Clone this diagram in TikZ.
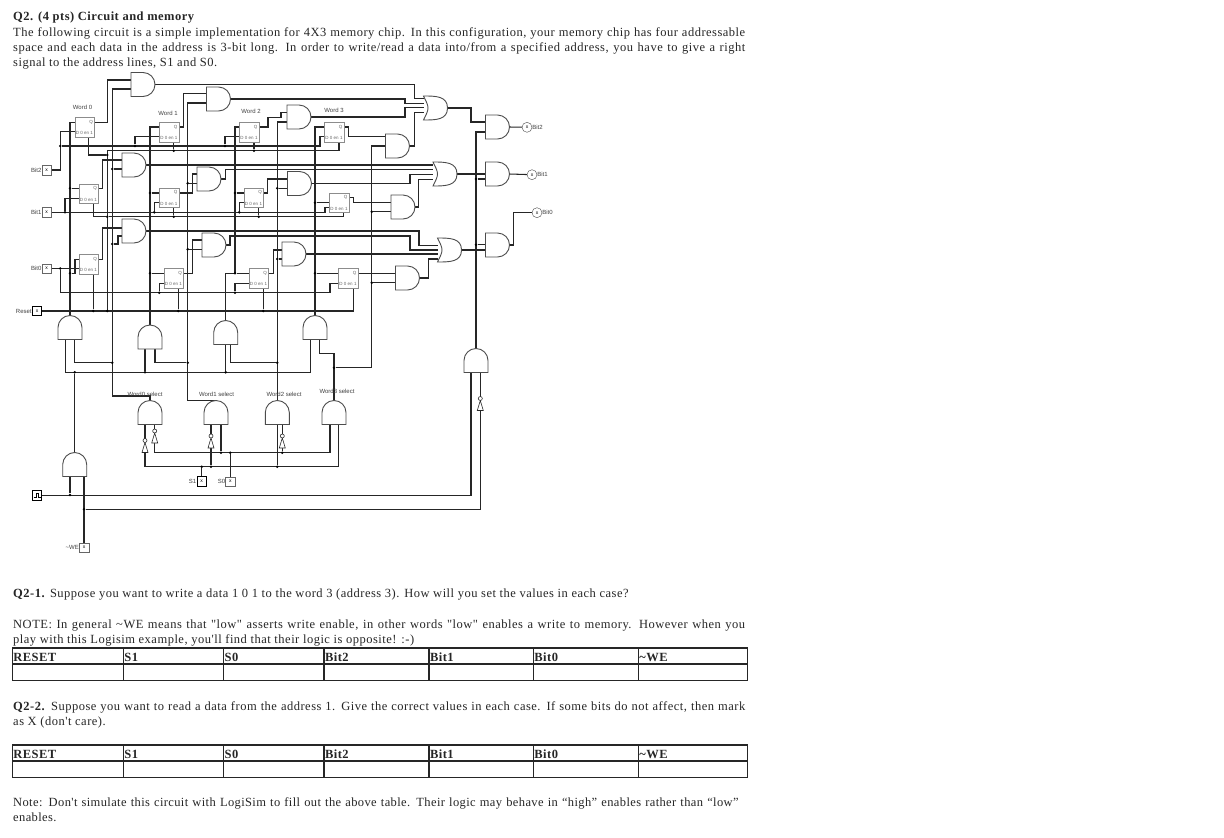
\documentclass[tikz,border=0pt]{standalone}
\usepackage{fontspec}
\setmainfont[LetterSpace=4, Ligatures=TeXOff]{Liberation Serif}
\setsansfont{Liberation Sans}
\usetikzlibrary{backgrounds, calc}

\tikzset{
    wire/.style={line width=1.05pt, black!85},
    gateline/.style={draw=black!70, fill=white, line width=0.9pt},
    gatebox/.style={rectangle, inner sep=0pt, outer sep=0pt, minimum width=24pt, minimum height=24pt},
    andg/.style={gatebox, append after command={\pgfextra{
        \draw[gateline] (\tikzlastnode.north west) -- (\tikzlastnode.north)
            .. controls ($(\tikzlastnode.north)!0.55!(\tikzlastnode.north east)$) and ($(\tikzlastnode.east)!0.55!(\tikzlastnode.north east)$) .. (\tikzlastnode.east)
            .. controls ($(\tikzlastnode.east)!0.55!(\tikzlastnode.south east)$) and ($(\tikzlastnode.south)!0.55!(\tikzlastnode.south east)$) .. (\tikzlastnode.south)
            -- (\tikzlastnode.south west) -- cycle;}}},
    org/.style={gatebox, append after command={\pgfextra{
        \draw[gateline] (\tikzlastnode.north west) .. controls (\tikzlastnode.north) and (\tikzlastnode.north east) .. (\tikzlastnode.east)
            .. controls (\tikzlastnode.south east) and (\tikzlastnode.south) .. (\tikzlastnode.south west) .. controls ($(\tikzlastnode.west)!0.5!(\tikzlastnode.center)$) .. cycle;}}},
    notg/.style={rectangle, inner sep=0pt, outer sep=0pt, minimum width=14pt, minimum height=6pt, rotate=90, append after command={\pgfextra{
        \draw[gateline, draw=black!85, line width=0.6pt] (\tikzlastnode.north west) -- ([yshift=-4pt]\tikzlastnode.east) -- (\tikzlastnode.south west) -- cycle;
        \draw[gateline, draw=black!85, line width=0.6pt] ([yshift=-2pt]\tikzlastnode.east) circle (2pt);}}},
    ffbox/.style={rectangle, draw=black!45, fill=white, minimum size=19.5pt, inner sep=0pt, label={[fftext, xshift=6.5pt, yshift=5pt]center:Q}, label={[fftext, yshift=-6pt]center:D 0 en 1}},
    fftext/.style={inner sep=0pt, text=black!60, font=\sffamily\fontsize{4.5}{5}\selectfont},
    pinbox/.style={rectangle, draw=black!60, fill=white, minimum size=9.5pt, inner sep=0pt, font=\sffamily\fontsize{5}{6}\selectfont, label distance=1.5pt},
    pinbold/.style={pinbox, draw=black, line width=0.9pt},
    pinout/.style={circle, draw=black!70, fill=white, minimum size=10pt, inner sep=0pt, font=\sffamily\fontsize{5}{6}\selectfont, label distance=0pt},
    every label/.style={font=\sffamily\fontsize{6}{7}\selectfont, text=black!75, inner sep=0pt},
    dot/.style={circle, fill=black, inner sep=0pt, minimum size=2.8pt},
    tag/.style={font=\sffamily\fontsize{6}{7}\selectfont, text=black!75, inner sep=0pt},
    para/.style={anchor=north west, inner sep=0pt, text width=732pt, align=justify, font=\fontsize{12.5}{15}\selectfont, text=black!85},
    thead/.style={anchor=base west, inner sep=0pt, font=\bfseries\fontsize{12.5}{14}\selectfont, text=black!85},
    tabline/.style={line width=1.3pt, black!85},
}

\begin{document}
\begin{tikzpicture}[x=1pt, y=-1pt]
    \useasboundingbox (0, 0) rectangle (1224, 838);

    \node[para, font=\bfseries\fontsize{12.5}{15}\selectfont] (title) at (13, 12) {Q2. (4 pts) Circuit and memory};
    \node[para] (intro) at (13, 27) {The following circuit is a simple implementation for 4X3 memory chip. In this configuration, your memory chip has four addressable\linebreak space and each data in the address is 3-bit long. In order to write/read a data into/from a specified address, you have to give a right\linebreak signal to the address lines, S1 and S0.};
    \node[para] (qone) at (13, 589) {\textbf{Q2-1.} Suppose you want to write a data 1 0 1 to the word 3 (address 3). How will you set the values in each case?};
    \node[para] (noteone) at (13, 620) {NOTE: In general \textasciitilde WE means that "low" asserts write enable, in other words "low" enables a write to memory. However when you\linebreak play with this Logisim example, you'll find that their logic is opposite! :-)};
    \node[para] (qtwo) at (13, 701) {\textbf{Q2-2.} Suppose you want to read a data from the address 1. Give the correct values in each case. If some bits do not affect, then mark\linebreak as X (don't care).};
    \node[para, align=left] (notetwo) at (13, 797) {\addfontfeature{LetterSpace=3}Note: Don't simulate this circuit with LogiSim to fill out the above table. Their logic may behave in “high” enables rather than “low”\\enables.};

    \foreach \top/\t in {648/A, 745/B} {
        \draw[tabline] (12.3, \top) rectangle (747.7, \top+32.5);
        \draw[tabline] (12.3, \top+16) -- (747.7, \top+16);
        \foreach \x/\c/\name in {12.3/a/RESET, 123.3/b/S1, 223.7/c/S0, 324/d/Bit2, 429/e/Bit1, 533.3/f/Bit0, 638.3/g/\textasciitilde WE} {
            \draw[tabline] (\x, \top) -- (\x, \top+32.5);
            \node[thead] (hd\t\c) at (\x+0.8, \top+13) {\name};
        }
    }

    \node[ffbox] (F0) at (84.5, 127) {};
    \node[ffbox] (F1) at (88.5, 193.5) {};
    \node[ffbox] (F2) at (88.5, 264) {};
    \node[ffbox] (F3) at (169, 132) {};
    \node[ffbox] (F4) at (169, 197.5) {};
    \node[ffbox] (F5) at (173.5, 278) {};
    \node[ffbox] (F6) at (249, 132) {};
    \node[ffbox] (F7) at (253.5, 197.5) {};
    \node[ffbox] (F8) at (258.5, 278) {};
    \node[ffbox] (F9) at (334, 132) {};
    \node[ffbox] (F10) at (339, 202.5) {};
    \node[ffbox] (F11) at (348, 278) {};

    \node[andg] (G1) at (143, 84.5) {};
    \node[andg] (G2) at (218.5, 99) {};
    \node[andg] (G3) at (299, 117) {};
    \node[andg] (G4) at (397.5, 146) {};
    \node[andg] (G5) at (134, 165) {};
    \node[andg] (G6) at (209, 179) {};
    \node[andg] (G7) at (299.5, 183.5) {};
    \node[andg] (G8) at (403, 207) {};
    \node[andg] (G9) at (134, 231) {};
    \node[andg] (G10) at (214, 245) {};
    \node[andg] (G11) at (294, 254) {};
    \node[andg] (G12) at (407.5, 278) {};

    \node[org] (O1) at (435.5, 108) {};
    \node[org] (O2) at (445, 174) {};
    \node[org] (O3) at (449.5, 250) {};
    \node[andg] (A1) at (497.5, 127) {};
    \node[andg] (A2) at (497.5, 174) {};
    \node[andg] (A3) at (497.5, 245) {};

    \node[andg, rotate=90] (U1) at (70, 327.5) {};
    \node[andg, rotate=90] (U2) at (150, 337) {};
    \node[andg, rotate=90] (U3) at (225.7, 332.5) {};
    \node[andg, rotate=90] (U4) at (315, 327.5) {};
    \node[andg, rotate=90] (S1) at (150, 412.5) {};
    \node[andg, rotate=90] (S2) at (216, 412.5) {};
    \node[andg, rotate=90] (S3) at (277.3, 412.5) {};
    \node[andg, rotate=90] (S4) at (334, 412.5) {};
    \node[andg, rotate=90] (RA) at (74.7, 464.5) {};
    \node[andg, rotate=90] (WA) at (476, 360.5) {};

    \node[notg] (N1) at (145, 445.5) {};
    \node[notg] (N2) at (154.7, 436) {};
    \node[notg] (N3) at (211, 441) {};
    \node[notg] (N4) at (282.3, 441) {};
    \node[notg] (N5) at (480.3, 403.5) {};

    \node[pinbox, label=left:Bit2] (P2) at (46.5, 170) {x};
    \node[pinbox, label=left:Bit1] (P1) at (46.5, 212.3) {x};
    \node[pinbox, label=left:Bit0] (P0) at (46.5, 268.5) {x};
    \node[pinbold, label=left:Reset] (PR) at (37, 311) {x};
    \node[pinbold] (PCK) at (37, 495.5) {};
    \node[pinbold, label=left:S1] (PS1) at (201.7, 481.5) {x};
    \node[pinbox, label=left:S0] (PS0) at (230.3, 481.5) {x};
    \node[pinbox, label=left:\textasciitilde WE] (PWE) at (84, 547.5) {x};
    \node[pinout, label=right:Bit2] (B2) at (527, 127.3) {x};
    \node[pinout, label=right:Bit1] (B1) at (532, 174.7) {x};
    \node[pinout, label=right:Bit0] (B0) at (537, 212.7) {x};
    \draw[line width=0.6pt] (33.5, 497.5) -- (36, 497.5) -- (36, 493) -- (38.5, 493) -- (38.5, 497.5) -- (40.5, 497.5);

    \node[tag] (W0) at (82.5, 107.5) {Word 0};
    \node[tag] (W1) at (168, 113) {Word 1};
    \node[tag] (W2) at (251, 111) {Word 2};
    \node[tag] (W3) at (334, 110) {Word 3};
    \node[tag] (L0) at (145, 394) {Word0 select};
    \node[tag] (L1) at (216.5, 394.5) {Word1 select};
    \node[tag] (L2) at (284, 394.5) {Word2 select};
    \node[tag] (L3) at (337, 391.5) {Word3 select};

    \foreach \jn/\jx/\jy in {j1/60.3/146, j2/70/188.3, j3/65/212.3, j4/60.3/268.5, j5/70/273.3, j6/107.3/155,
        j7/107.3/216.7, j8/112.3/169, j9/112.3/244, j10/93.3/311, j11/107.3/311, j12/178.3/311, j13/263.3/311,
        j14/173.7/150.7, j15/254/150.7, j16/173.7/216.7, j17/258.7/216.7, j18/154.3/212.3, j19/239.3/212.3,
        j20/150/193, j21/150/273.3, j22/235/193, j23/235/273.3, j24/159.3/292.7, j25/235/292.7,
        j26/187.7/183.3, j27/187.7/249.3, j28/277.3/188.3, j29/277.3/259, j30/315/202.7, j31/315/273.3,
        j32/371.7/211.7, j33/371.7/282.7, j34/476/179, j35/476/244.7, j36/112.3/362.7, j37/187.7/362.7,
        j38/277.3/362.7, j39/74.7/372.3, j40/145/372.3, j41/225.7/372.3, j42/334/367.7, j43/201.7/466.7,
        j44/211/466.7, j45/277.3/466.7, j46/221/452.7, j47/230.3/452.7, j48/282.3/452.7, j49/70/495,
        j50/84/509.3, j51/135/146, j52/225/146} {
        \node[dot] (\jn) at (\jx, \jy) {};
    }

    \begin{scope}[on background layer]
    \draw[wire] (F0.west |- 0,122.3) -- (70, 122.3) -- (U1.east);
    \draw[wire] (F3.west |- 0,127) -- (150, 127) -- (U2.east);
    \draw[wire] (F6.west |- 0,127) -- (235, 127) -- (235, 273.3) -- (225.7, 273.3) -- (U3.east);
    \draw[wire] (F9.west |- 0,127) -- (315, 127) -- (U4.east);
    \draw[wire] (j2) -- (F1.west |- j2);
    \draw[wire] (j20) -- (F4.west |- j20);
    \draw[wire] (j21) -- (F5.west |- j21);
    \draw[wire] (j22) -- (F7.west |- j22);
    \draw[wire] (j23) -- (F8.west |- j23);
    \draw[wire] (j30) -- (F10.west |- j30);
    \draw[wire] (j31) -- (F11.west |- j31);
    \draw[wire] (j5) -- (75, 273.3) -- (75, 259.3) -- (F2.west |- 0,259.3);

    \draw[wire] (F0.east |- 0,122.3) -- (107.3, 122.3) -- (107.3, 80) -- (G1.west |- 0,80);
    \draw[wire] (G1.west |- 0,89) -- (112.3, 89) -- (112.3, 396) -- (150, 396) -- (S1.east);
    \draw[wire] (F1.east |- 0,188.3) -- (102.7, 188.3) -- (102.7, 160) -- (G5.west |- 0,160);
    \draw[wire] (j8) -- (G5.west |- j8);
    \draw[wire] (F2.east |- 0,259.3) -- (102.7, 259.3) -- (102.7, 228) -- (G9.west |- 0,228);
    \draw[wire] (j9) -- (118, 244) -- (118, 236) -- (G9.west |- 0,236);
    \draw[wire] (F3.east |- 0,127) -- (183.3, 127) -- (183.3, 93.7) -- (G2.west |- 0,93.7);
    \draw[wire] (G2.west |- 0,103) -- (187.7, 103) -- (187.7, 400.5) -- (S2.east);
    \draw[wire] (F4.east |- 0,193) -- (192.7, 193) -- (192.7, 174) -- (G6.west |- 0,174);
    \draw[wire] (j26) -- (G6.west |- j26);
    \draw[wire] (F5.east |- 0,273.3) -- (192.7, 273.3) -- (192.7, 240) -- (G10.west |- 0,240);
    \draw[wire] (j27) -- (G10.west |- j27);
    \draw[wire] (F6.east |- 0,127) -- (268, 127) -- (268, 117.5) -- (281, 117.5) -- (281, 112.5) -- (G3.west |- 0,112.5);
    \draw[wire] (G3.west |- 0,122) -- (277.3, 122) -- (S3.east);
    \draw[wire] (F7.east |- 0,193) -- (267.3, 193) -- (267.3, 179) -- (G7.west |- 0,179);
    \draw[wire] (j28) -- (G7.west |- j28);
    \draw[wire] (F8.east |- 0,273.3) -- (273.3, 273.3) -- (273.3, 250) -- (G11.west |- 0,250);
    \draw[wire] (j29) -- (G11.west |- j29);
    \draw[wire] (F9.east |- 0,127) -- (348.7, 127) -- (348.7, 136.3) -- (G4.west |- 0,136.3);
    \draw[wire] (G4.west) -- (371.7, 146) -- (371.7, 367.7) -- (j42);
    \draw[wire] (F10.east |- 0,197.7) -- (353.3, 197.7) -- (353.3, 202.3) -- (G8.west |- 0,202.3);
    \draw[wire] (j32) -- (G8.west |- j32);
    \draw[wire] (F11.east |- 0,273.7) -- (G12.west |- 0,273.7);
    \draw[wire] (j33) -- (G12.west |- j33);

    \draw[wire] (G1.east) -- (414.3, 84.5) -- (414.3, 98.3) -- (O1.west |- 0,98.3);
    \draw[wire] (G2.east) -- (405, 99) -- (405, 103.3) -- (O1.west |- 0,103.3);
    \draw[wire] (G3.east) -- (405, 117) -- (405, 107.7) -- (O1.west |- 0,107.7);
    \draw[wire] (G4.east) -- (414.3, 146) -- (414.3, 112.3) -- (O1.west |- 0,112.3);
    \draw[wire] (G5.east) -- (O2.west |- G5.east);
    \draw[wire] (G6.east) -- (225.7, 179) -- (225.7, 169.5) -- (O2.west |- 0,169.5);
    \draw[wire] (G7.east) -- (410, 183.5) -- (410, 174.3) -- (O2.west |- 0,174.3);
    \draw[wire] (G8.east) -- (418.3, 207) -- (418.3, 179.3) -- (O2.west |- 0,179.3);
    \draw[wire] (G9.east) -- (419, 231) -- (419, 245.3) -- (O3.west |- 0,245.3);
    \draw[wire] (G10.east) -- (230, 245) -- (230, 236) -- (410, 236) -- (410, 250) -- (O3.west |- 0,250);
    \draw[wire] (G11.east) -- (O3.west |- G11.east);
    \draw[wire] (G12.east) -- (428.3, 278) -- (428.3, 259) -- (O3.west |- 0,259);

    \draw[wire] (O1.east) -- (471, 108) -- (471, 122) -- (A1.west |- 0,122);
    \draw[wire] (O2.east) -- (A2.west);
    \draw[wire] (O3.east) -- (A3.west |- O3.east);
    \draw[wire] (WA.east) -- (476, 132) -- (A1.west |- 0,132);
    \draw[wire] (j34) -- (A2.west |- j34);
    \draw[wire] (j35) -- (A3.west |- j35);
    \draw[wire] (A1.east) -- (B2);
    \draw[wire] (A2.east) -- (B1);
    \draw[wire] (A3.east) -- (513.3, 245) -- (513.3, 212.7) -- (B0);

    \draw[wire] (P2.east) -- (60.3, 170) -- (60.3, 131.7) -- (F0.west |- 0,131.7);
    \draw[wire] (j1) -- (320, 146) -- (320, 136.3) -- (F9.west |- 0,136.3);
    \draw[wire] (j51) -- (135, 136.3) -- (F3.west |- 0,136.3);
    \draw[wire] (j52) -- (225, 136.3) -- (F6.west |- 0,136.3);
    \draw[wire] (F9.south -| 339,0) -- (339, 150.7) -- (107.3, 150.7) -- (107.3, 311);
    \draw[wire] (F0.south -| 88.3,0) -- (88.3, 155) -- (j6);
    \draw[wire] (F3.south -| 173.7,0) -- (j14);
    \draw[wire] (F6.south -| 254,0) -- (j15);
    \draw[wire] (P1.east) -- (325, 212.3) -- (325, 207.3) -- (F10.west |- 0,207.3);
    \draw[wire] (j3) -- (65, 198.3) -- (F1.west |- 0,198.3);
    \draw[wire] (j18) -- (154.3, 202.7) -- (F4.west |- 0,202.7);
    \draw[wire] (j19) -- (239.3, 202.7) -- (F7.west |- 0,202.7);
    \draw[wire] (j7) -- (343.3, 216.7) -- (F10.south -| 343.3,0);
    \draw[wire] (F1.south -| 93.7,0) -- (93.7, 216.7) -- (j7);
    \draw[wire] (F4.south -| 173.7,0) -- (j16);
    \draw[wire] (F7.south -| 258.7,0) -- (j17);
    \draw[wire] (P0.east) -- (F2.west |- P0.east);
    \draw[wire] (j4) -- (60.3, 292.7) -- (330, 292.7) -- (330, 283.3) -- (F11.west |- 0,283.3);
    \draw[wire] (j24) -- (159.3, 283.3) -- (F5.west |- 0,283.3);
    \draw[wire] (j25) -- (235, 283.3) -- (F8.west |- 0,283.3);
    \draw[wire] (PR.east) -- (353.3, 311) -- (F11.south -| 353.3,0);
    \draw[wire] (F2.south -| 93.3,0) -- (j10);
    \draw[wire] (F5.south -| 178.3,0) -- (j12);
    \draw[wire] (F8.south -| 263.3,0) -- (j13);

    \draw[wire] (U4.west -| 310.7,0) -- (310.7, 372.3) -- (65.3, 372.3) -- (U1.west -| 65.3,0);
    \draw[wire] (U1.west -| 74.7,0) -- (74.7, 362.7) -- (j36);
    \draw[wire] (U2.west -| 155,0) -- (155, 362.7) -- (j37);
    \draw[wire] (U3.west -| 230.3,0) -- (230.3, 362.7) -- (j38);
    \draw[wire] (U2.west -| 145,0) -- (j40);
    \draw[wire] (U3.west -| 225.7,0) -- (j41);
    \draw[wire] (U4.west -| 319.7,0) -- (319.7, 353.3) -- (334, 353.3) -- (S4.east);
    \draw[wire] (j39) -- (RA.east);

    \draw[wire] (N1.east) -- (S1.west -| 145,0);
    \draw[wire] (N2.east) -- (S1.west -| 154.7,0);
    \draw[wire] (N3.east) -- (S2.west -| 211,0);
    \draw[wire] (N4.east) -- (S3.west -| 282.3,0);
    \draw[wire] (N5.east) -- (WA.west -| 480.3,0);
    \draw[wire] (N1.west) -- (145, 466.7) -- (338.7, 466.7) -- (S4.west -| 338.7,0);
    \draw[wire] (N2.west) -- (154.7, 452.7) -- (330, 452.7) -- (S4.west -| 330,0);
    \draw[wire] (N3.west) -- (j44);
    \draw[wire] (N4.west) -- (j48);
    \draw[wire] (S2.west -| 221,0) -- (j46);
    \draw[wire] (S3.west -| 277.3,0) -- (j45);
    \draw[wire] (PS1.north) -- (j43);
    \draw[wire] (PS0.north) -- (j47);

    \draw[wire] (PCK.east) -- (471, 495.5) -- (WA.west -| 471,0);
    \draw[wire] (j49) -- (RA.west -| 70,0);
    \draw[wire] (PWE.north) -- (RA.west -| 84,0);
    \draw[wire] (j50) -- (480.3, 509.3) -- (N5.west);
    \end{scope}
\end{tikzpicture}
\end{document}
